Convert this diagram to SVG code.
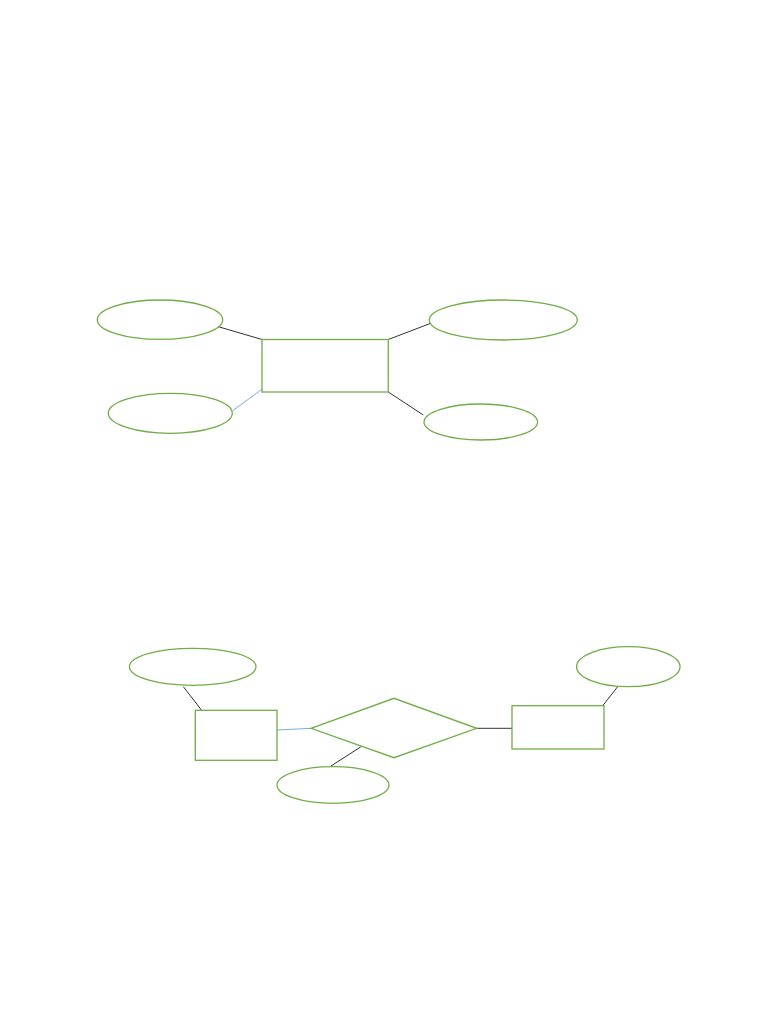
<svg xmlns="http://www.w3.org/2000/svg" width="768" height="1024" viewBox="0 0 768 1024">
<style>
.s{fill:none;stroke:#70ad47;stroke-width:1.3}
.c{stroke:#333;stroke-width:1;fill:none}
.b{stroke:#7aaee0;stroke-width:1;fill:none}
</style>
<rect width="768" height="1024" fill="#fff"/>
<g id="connectors">
<line class="c" x1="218.3" y1="326.7" x2="262" y2="339.5"/>
<line class="b" x1="232.7" y1="410.7" x2="262.3" y2="389"/>
<line class="c" x1="388.3" y1="339.5" x2="430.7" y2="323.3"/>
<line class="c" x1="388.3" y1="392" x2="423.3" y2="415"/>
<line class="c" x1="183.3" y1="686.7" x2="201.7" y2="710.3"/>
<line class="b" x1="277" y1="730" x2="311" y2="728.3"/>
<line class="c" x1="361" y1="746.7" x2="331" y2="766"/>
<line class="c" x1="476.7" y1="728.3" x2="512" y2="728.3"/>
<line class="c" x1="617.7" y1="686.7" x2="602.7" y2="705.7"/>
</g>
<g id="attr1"><ellipse class="s" cx="160" cy="319.7" rx="62.7" ry="19.7"/></g>
<g id="attr2"><ellipse class="s" cx="170.3" cy="413.3" rx="62" ry="20"/></g>
<g id="attr3"><ellipse class="s" cx="503.3" cy="320" rx="74" ry="20"/></g>
<g id="attr4"><ellipse class="s" cx="480.8" cy="422" rx="56.8" ry="18"/></g>
<g id="entity1"><rect class="s" x="262" y="339.5" width="126.3" height="52.5"/></g>
<g id="attr5"><ellipse class="s" cx="192.7" cy="666.8" rx="63.3" ry="18.5"/></g>
<g id="entity2"><rect class="s" x="195.3" y="710.3" width="81.7" height="50"/></g>
<g id="relation"><polygon class="s" points="311,728.3 394,698.3 476.7,728.3 394,757.7"/></g>
<g id="attr6"><ellipse class="s" cx="333" cy="785" rx="56" ry="18.3"/></g>
<g id="attr7"><ellipse class="s" cx="628.3" cy="666.7" rx="51.7" ry="20"/></g>
<g id="entity3"><rect class="s" x="512" y="705.7" width="92" height="43.3"/></g>
</svg>
